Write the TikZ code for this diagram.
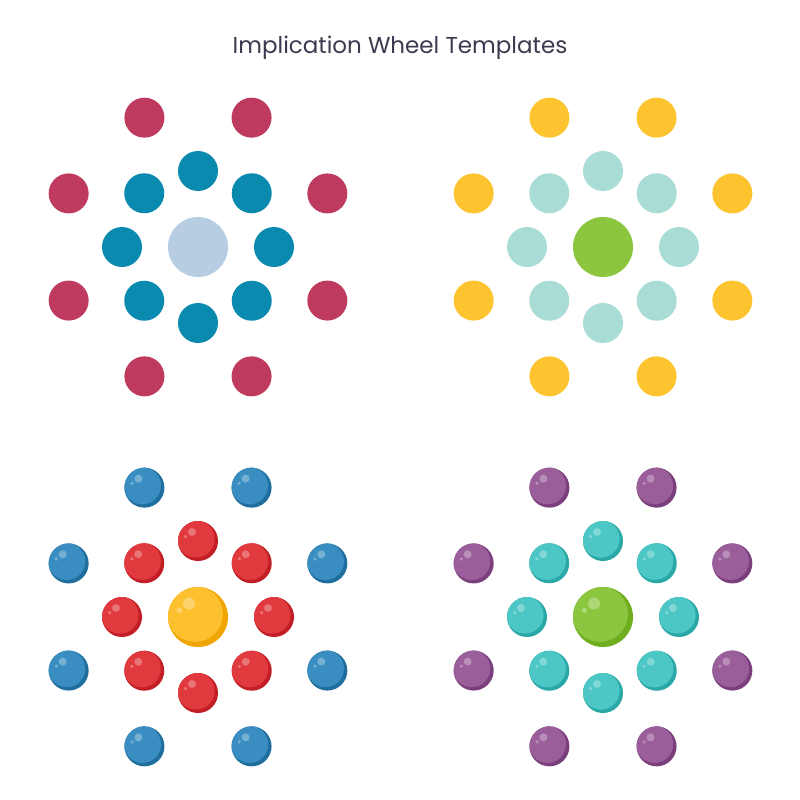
\documentclass[tikz,border=0pt]{standalone}
\usepackage{fontspec}
\setmainfont{Poppins}
\usetikzlibrary{calc,backgrounds}
\definecolor{linec}{HTML}{3A3A48}
\definecolor{titlec}{HTML}{3D3A50}
\definecolor{crim}{HTML}{BE3A5E}
\definecolor{petrol}{HTML}{0B8AB0}
\definecolor{paleblue}{HTML}{B7CDE2}
\definecolor{sun}{HTML}{FEC430}
\definecolor{mint}{HTML}{A8DCD4}
\definecolor{lime}{HTML}{8CC63F}
\definecolor{limed}{HTML}{6FAE1F}
\definecolor{blueb}{HTML}{3A8DC0}
\definecolor{bluebd}{HTML}{1F6E9E}
\definecolor{redb}{HTML}{E0393E}
\definecolor{redbd}{HTML}{C21E26}
\definecolor{yelb}{HTML}{FDC130}
\definecolor{yelbd}{HTML}{F0A500}
\definecolor{purb}{HTML}{9A5E9A}
\definecolor{purbd}{HTML}{7A3F7C}
\definecolor{tealb}{HTML}{4CC7C6}
\definecolor{tealbd}{HTML}{2AA8A8}
\tikzset{
  dot/.style={circle,inner sep=0pt,draw=none,fill=#1},
  ball/.style n args={3}{circle,inner sep=0pt,draw=none,fill=#2,
    path picture={
      \fill[#1] ($(path picture bounding box.center)+(-0.1*#3,-0.1*#3)$) circle ({0.93*#3});
      \fill[white,opacity=.3] ($(path picture bounding box.center)+(-0.3*#3,-0.45*#3)$) circle ({0.2*#3});
      \fill[white,opacity=.3] ($(path picture bounding box.center)+(-0.62*#3,-0.22*#3)$) circle ({0.09*#3});
    }},
  link/.style={draw=linec,line width=1.1pt}
}
\newcommand\wheelX[8]{%
  \node[#4,minimum size=60pt] (#1c) at (#2,#3) {};
  \foreach \k in {0,...,7}{
    \node[#5,minimum size=40pt] (#1i\k) at ($(#2,#3)+(\k*45:76)$) {};
    \node[#6,minimum size=40pt] (#1o\k) at ($(#2,#3)+(\k*45+22.5:140)$) {};
  }
  \begin{pgfonlayer}{background}
    #8
    \foreach \k [evaluate=\k as \n using {int(mod(\k+1,8))}] in {0,...,7}{
      \draw[link] (#1c.center) -- (#1i\k.center);
      \draw[link] (#1o\k.center) -- (#1c.center);
      \draw[link] (#1o\k.center) -- (#1i\k.center);
      \draw[link] (#1o\k.center) -- (#1i\n.center);
    }
  \end{pgfonlayer}
}
\begin{document}
\begin{tikzpicture}[x=1pt,y=-1pt]
\useasboundingbox[fill=white] (0,0) rectangle (800,800);
\node[text=titlec,font=\fontsize{23}{28}\selectfont] (title) at (400,48) {Implication Wheel Templates};
\wheelX{a}{198}{247}{dot=paleblue}{dot=petrol}{dot=crim}{}{}
\wheelX{b}{603}{247}{dot=lime}{dot=mint}{dot=sun}{}{}
\wheelX{c}{198}{617}{ball={yelb}{yelbd}{30}}{ball={redb}{redbd}{20}}{ball={blueb}{bluebd}{20}}{}{\draw[link] (198,617) circle (141);}
\wheelX{d}{603}{617}{ball={lime}{limed}{30}}{ball={tealb}{tealbd}{20}}{ball={purb}{purbd}{20}}{}{\draw[link,draw=linec!80] (603,617) circle (141);}
\end{tikzpicture}
\end{document}
